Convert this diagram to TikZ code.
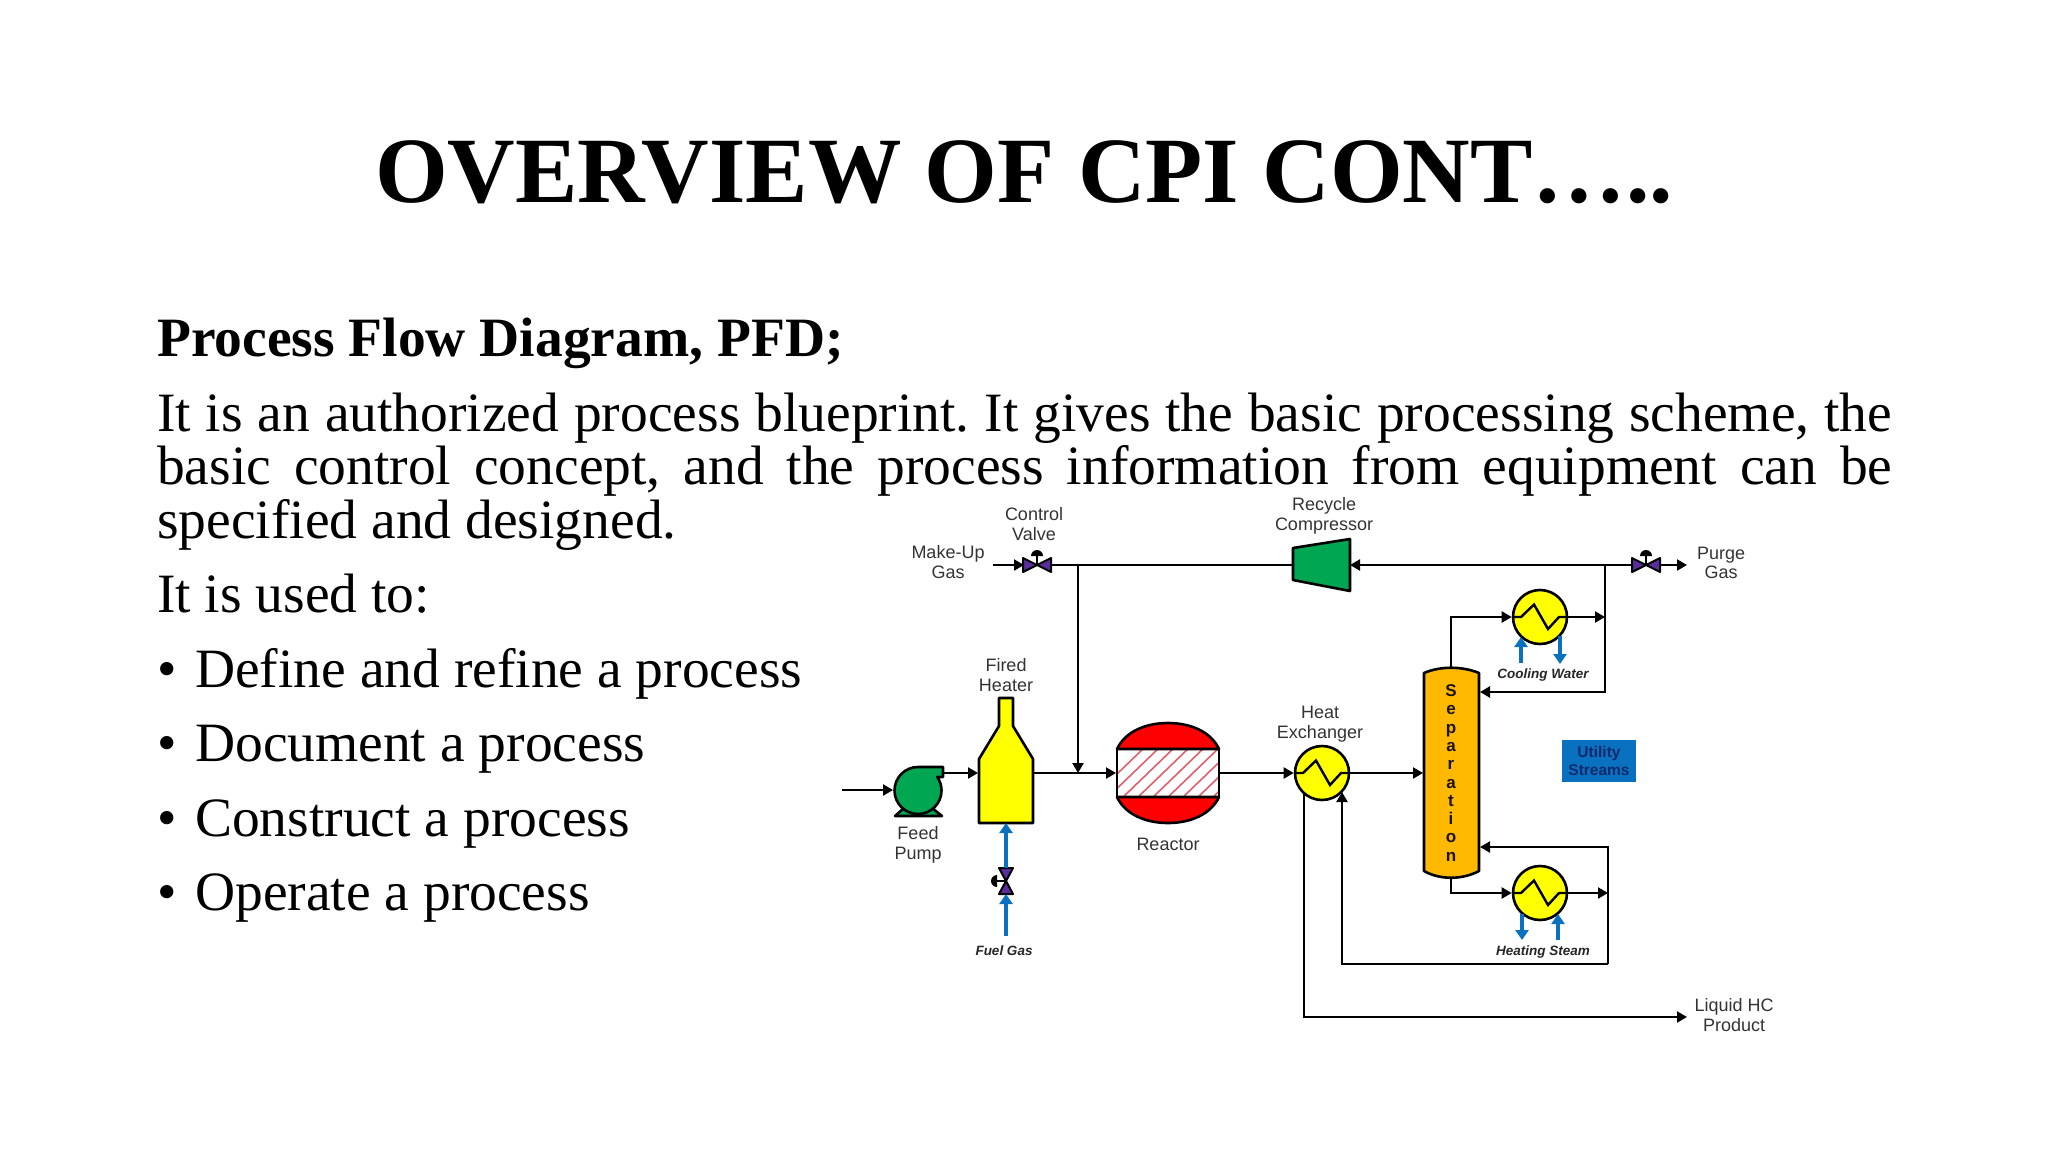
\documentclass[tikz,border=0pt]{standalone}
\usepackage{fontspec}
\setmainfont{Liberation Serif}
\newfontfamily\labfont{Liberation Sans}
\usetikzlibrary{arrows.meta,calc}
\definecolor{labgray}{HTML}{333333}
\definecolor{eqgreen}{HTML}{00A651}
\definecolor{eqyellow}{HTML}{FFFF00}
\definecolor{eqred}{HTML}{FF0000}
\definecolor{eqorange}{HTML}{FFB900}
\definecolor{eqpurple}{HTML}{5B2D9E}
\definecolor{utilblue}{HTML}{0A70C0}
\definecolor{utiltext}{HTML}{0B2A6B}
\definecolor{hatchred}{HTML}{E06070}
\tikzset{
  x=1pt,y=-1pt,
  titletext/.style={anchor=base,inner sep=0,font=\fontsize{93.5}{94}\selectfont\bfseries},
  bodytext/.style={anchor=base west,inner sep=0,font=\fontsize{55.5}{55.5}\selectfont\frenchspacing},
  lab/.style={align=center,inner sep=0,text=labgray,font=\labfont\fontsize{18}{19.5}\selectfont},
  utillab/.style={align=center,inner sep=0,text=black!85,font=\labfont\bfseries\itshape\fontsize{13.5}{15}\selectfont},
  equip/.style={draw=black,line width=2.6pt,line join=round},
  pipe/.style={draw=black,line width=2.2pt,line join=miter},
  arrowpipe/.style={pipe,-{Triangle[length=10pt,width=11pt]}},
  bluearrow/.style={draw=utilblue,line width=3.2pt,-{Triangle[length=10pt,width=13pt]}},
  hx/.style={circle,equip,fill=eqyellow,minimum size=54pt,inner sep=0},
}
\newcommand{\hxzig}[1]{\draw[black,line width=2.4pt,line join=miter]
  ($(#1)+(-27,0)$) -- ($(#1)+(-19,0)$) -- ($(#1)+(-6,-12.5)$) -- ($(#1)+(8,12)$) -- ($(#1)+(19,0)$) -- ($(#1)+(27,0)$);}
\newcommand{\valveH}[1]{%
  \draw[equip,line width=2pt,fill=eqpurple] ($(#1)+(-14,-7)$) -- ($(#1)+(14,7)$) -- ($(#1)+(14,-7)$) -- ($(#1)+(-14,7)$) -- cycle;
  \draw[black,line width=2pt] (#1) -- ($(#1)+(0,-10)$);
  \fill[black] ($(#1)+(-6,-9)$) arc[start angle=180,end angle=360,radius=6] -- cycle;}
\newcommand{\valveV}[1]{%
  \draw[equip,line width=2pt,fill=eqpurple] ($(#1)+(-7,-13)$) -- ($(#1)+(7,13)$) -- ($(#1)+(-7,13)$) -- ($(#1)+(7,-13)$) -- cycle;
  \draw[black,line width=2pt] (#1) -- ($(#1)+(-10,0)$);
  \fill[black] ($(#1)+(-9,-6)$) arc[start angle=-90,end angle=-270,radius=6] -- cycle;}
\begin{document}
\begin{tikzpicture}
\useasboundingbox (0,0) rectangle (2048,1152);
% ---- text
\node[titletext] (title) at (1024,202) {OVERVIEW OF CPI CONT…..};
\node[bodytext,font=\fontsize{55.5}{55.5}\selectfont\bfseries] (head) at (157,356) {Process Flow Diagram, PFD;};
\node[bodytext] (l1) at (157,431) {\makebox[1735pt][s]{It is an authorized process blueprint. It gives the basic processing scheme, the}};
\node[bodytext] (l2) at (157,484) {\makebox[1735pt][s]{basic control concept, and the process information from equipment can be}};
\node[bodytext] (l3) at (157,538) {specified and designed.};
\node[bodytext] (l4) at (157,612) {It is used to:};
\node[bodytext] (b1) at (157,687) {•};
\node[bodytext] (t1) at (195,687) {Define and refine a process};
\node[bodytext] (b2) at (157,761) {•};
\node[bodytext] (t2) at (195,761) {Document a process};
\node[bodytext] (b3) at (157,836) {•};
\node[bodytext] (t3) at (195,836) {Construct a process};
\node[bodytext] (b4) at (157,910) {•};
\node[bodytext] (t4) at (195,910) {Operate a process};
% ---- coordinates
\coordinate (mustart) at (993,565);
\coordinate (cv) at (1037,565);
\coordinate (jn) at (1078,565);
\coordinate (compL) at (1293,565);
\coordinate (compR) at (1350,565);
\coordinate (jp) at (1605,565);
\coordinate (pv) at (1646,565);
\coordinate (purgeend) at (1687,565);
\coordinate (colTop) at (1451,668);
\coordinate (colBot) at (1451,878);
\coordinate (colR1) at (1480,692);
\coordinate (colR2) at (1480,847);
\coordinate (colL) at (1423,773);
\coordinate (jp2) at (1605,692);
\coordinate (feedstart) at (842,790);
\coordinate (pumpin) at (893,790);
\coordinate (pumpout) at (943,773);
\coordinate (fhL) at (978,773);
\coordinate (fhR) at (1033,773);
\coordinate (fhB) at (1006,823);
\coordinate (jf) at (1078,773);
\coordinate (rL) at (1116,773);
\coordinate (rR) at (1219,773);
\coordinate (fv) at (1006,881);
\coordinate (fuelstart) at (1006,936);
\coordinate (rbR) at (1608,893);
\coordinate (rbT) at (1608,847);
\coordinate (rbB) at (1608,964);
\coordinate (retC) at (1342,964);
\coordinate (liqS) at (1304,793);
\coordinate (liqC) at (1304,1017);
\coordinate (liqE) at (1687,1017);
% ---- pipes under equipment
\draw[pipe] (mustart) -- (compL);
\draw[arrowpipe,shorten >=0pt] (mustart) -- ($(cv)+(-13,0)$);
\draw[arrowpipe] (jn) -- (jf);
\draw[arrowpipe] (jp) -- (compR);
\draw[pipe] (jp) -- (pv);
\draw[arrowpipe] (pv) -- (purgeend);
\draw[arrowpipe] (jp) -- (jp2) -- (colR1);
\draw[arrowpipe] (feedstart) -- (pumpin);
\draw[arrowpipe] (pumpout) -- (fhL);
\draw[arrowpipe] (fhR) -- (rL);
% ---- valves
\valveH{cv}
\valveH{pv}
\valveV{fv}
% ---- compressor
\draw[equip,fill=eqgreen] (1293,548) -- (1350,539) -- (1350,591) -- (1293,580) -- cycle;
% ---- pump
\draw[equip,fill=eqgreen] (895,816) -- (904,808) -- (932,808) -- (942,816) -- cycle;
\draw[equip,fill=eqgreen] (943,767) -- (918,767) arc[start angle=-90,end angle=-270,radius=23.5] arc[start angle=90,end angle=-35,radius=23.5] -- (943,777) -- cycle;
% ---- fired heater
\draw[equip,fill=eqyellow] (999,698) -- (1013,698) -- (1013,726) -- (1033,759) -- (1033,823) -- (979,823) -- (979,759) -- (999,726) -- cycle;
% ---- reactor
\begin{scope}
\clip (1117,749) rectangle (1219,797);
\fill[white] (1117,749) rectangle (1219,797);
\foreach \k in {0,1,...,13}{
  \draw[hatchred,line width=1.6pt] ({1090+\k*15},800) -- ({1090+\k*15+56},746);
}
\end{scope}
\draw[equip,fill=eqred] (1117,749) .. controls (1125,732) and (1145,723) .. (1168,723) .. controls (1191,723) and (1211,732) .. (1219,749) -- cycle;
\draw[equip,fill=eqred] (1117,797) .. controls (1125,814) and (1145,823) .. (1168,823) .. controls (1191,823) and (1211,814) .. (1219,797) -- cycle;
\draw[equip] (1117,749) -- (1117,797) (1219,749) -- (1219,797);
% ---- column
\draw[equip,fill=eqorange] (1424,673) .. controls (1440,666) and (1462,666) .. (1479,673) -- (1479,871) .. controls (1462,880) and (1440,880) .. (1424,871) -- cycle;
\node[align=center,inner sep=0,text=black!90!eqorange,font=\labfont\bfseries\fontsize{17}{18.3}\selectfont] (sep) at (1451,773) {S\\e\\p\\a\\r\\a\\t\\i\\o\\n};
% ---- exchangers
\node[hx] (hex) at (1322,773) {};
\node[hx] (cond) at (1540,617) {};
\node[hx] (reb) at (1540,893) {};
\hxzig{hex}\hxzig{cond}\hxzig{reb}
% ---- remaining pipes
\draw[arrowpipe] (rR) -- (hex.west);
\draw[arrowpipe] (hex.east) -- (colL);
\draw[arrowpipe] (colTop) |- (cond.west);
\draw[pipe,-{Triangle[length=10pt,width=11pt]}] (cond.east) -- (jp |- cond.east);
\draw[arrowpipe] (colBot) |- (reb.west);
\draw[arrowpipe] (reb.east) -- (rbR);
\draw[arrowpipe] (rbB) -- (rbT) -- (colR2);
\draw[arrowpipe] (rbB) -- (retC) -- ($(hex)+(20,19)$);
\draw[arrowpipe] (liqS) -- (liqC) -- (liqE);
% ---- utility arrows
\coordinate (cwA) at (1521,663);\coordinate (cwB) at (1521,637);
\coordinate (cwC) at (1560,636);\coordinate (cwD) at (1560,664);
\coordinate (hsA) at (1522,914);\coordinate (hsB) at (1522,940);
\coordinate (hsC) at (1558,940);\coordinate (hsD) at (1558,914);
\draw[bluearrow] (cwA) -- (cwB);
\draw[bluearrow] (cwC) -- (cwD);
\draw[bluearrow] (hsA) -- (hsB);
\draw[bluearrow] (hsC) -- (hsD);
\draw[bluearrow] (fuelstart) -- ($(fv)+(0,13)$);
\draw[bluearrow] ($(fv)+(0,-13)$) -- (fhB);
% ---- utility box
\node[fill=utilblue,minimum width=74pt,minimum height=42pt,inner sep=0,align=center,text=utiltext,font=\labfont\bfseries\fontsize{15.5}{17.5}\selectfont] (util) at (1599,761) {Utility\\Streams};
% ---- labels
\node[lab] (lmu) at (948,562) {Make-Up\\Gas};
\node[lab] (lcv) at (1034,524) {Control\\Valve};
\node[lab] (lrc) at (1324,516) {Recycle\\Compressor};
\node[lab] (lpg) at (1721,563) {Purge\\Gas};
\node[lab] (lfh) at (1006,675) {Fired\\Heater};
\node[lab] (lhx) at (1320,724) {Heat\\Exchanger};
\node[lab] (lfp) at (918,845) {Feed\\Pump};
\node[lab] (lre) at (1168,844) {Reactor};
\node[lab] (llq) at (1734,1015) {Liquid HC\\Product};
\node[utillab] (lcw) at (1543,675) {Cooling Water};
\node[utillab] (lhs) at (1543,952) {Heating Steam};
\node[utillab] (lfg) at (1004,951) {Fuel Gas};
\end{tikzpicture}
\end{document}
